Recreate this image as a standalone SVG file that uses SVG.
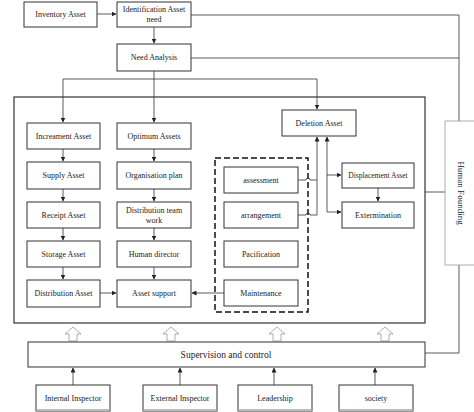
<svg xmlns="http://www.w3.org/2000/svg" width="474" height="412" viewBox="0 0 474 412">
<defs>
<marker id="ah" markerWidth="5" markerHeight="5" refX="4.5" refY="2.5" orient="auto" markerUnits="userSpaceOnUse">
<path d="M0,0 L5,2.5 L0,5 Z" fill="#222"/>
</marker>
</defs>
<style>
.b{fill:#fff;stroke:#333;stroke-width:1}
.t{font-family:"Liberation Serif","Times New Roman",serif;font-size:8px;fill:#222;text-anchor:middle}
.c{fill:none;stroke:#333;stroke-width:0.8}
.a{fill:none;stroke:#333;stroke-width:0.8;marker-end:url(#ah)}
.h{fill:#fff;stroke:#999;stroke-width:0.8}
</style>
<rect width="474" height="412" fill="#fff"/>
<g id="main-frame"><rect x="14" y="97" width="411" height="226" fill="none" stroke="#333" stroke-width="1.2"/></g>
<g id="dashed-group"><rect x="215" y="158" width="93" height="154" fill="none" stroke="#111" stroke-width="1.5" stroke-dasharray="6,3"/></g>
<g id="connectors">
<path class="a" d="M97,14 H116"/>
<path class="c" d="M191,15 H459 V121"/>
<path class="c" d="M191,58 H459"/>
<path class="a" d="M154,27 V43"/>
<path class="c" d="M154,71 V79"/>
<path class="c" d="M63,79 H317"/>
<path class="a" d="M63,79 V122"/>
<path class="a" d="M154,79 V122"/>
<path class="a" d="M317,79 V109"/>
<path class="a" d="M63,149 V161"/>
<path class="a" d="M63,189 V201"/>
<path class="a" d="M63,228 V240"/>
<path class="a" d="M63,267 V279"/>
<path class="a" d="M154,149 V161"/>
<path class="a" d="M154,189 V201"/>
<path class="a" d="M154,228 V240"/>
<path class="a" d="M154,267 V279"/>
<path class="a" d="M100,293 H116"/>
<path class="a" d="M224,293 H192"/>
<path class="c" d="M298,180 H306 a2,2 0 0 1 4,0 H317"/>
<path class="c" d="M298,215 H306 a2,2 0 0 1 4,0 H317"/>
<path class="a" d="M317,215 V137"/>
<path class="a" d="M327,212 V137"/>
<path class="a" d="M327,175 H341"/>
<path class="a" d="M327,212 H341"/>
<path class="a" d="M378,188 V201"/>
<path class="c" d="M425,192 H445"/>
<path class="c" d="M459,265 V353 H425"/>
<path class="a" d="M73,385 V368"/>
<path class="a" d="M180,385 V368"/>
<path class="a" d="M274,385 V368"/>
<path class="a" d="M375,385 V368"/>
<g fill="#fff" stroke="#999" stroke-width="0.8">
<path d="M69,341 V334 H65 L73,327 L81,334 H77 V341 Z"/>
<path d="M167,341 V334 H163 L171,327 L179,334 H175 V341 Z"/>
<path d="M273,341 V334 H269 L277,327 L285,334 H281 V341 Z"/>
<path d="M381,341 V334 H377 L385,327 L393,334 H389 V341 Z"/>
</g>
</g>
<g id="inventory-asset"><rect class="b" x="24" y="2" width="73" height="25"/><text class="t" x="60.5" y="17">Inventory Asset</text></g>
<g id="identification-asset-need"><rect class="b" x="117" y="2" width="74" height="25"/><text class="t" x="154" y="12">Identification Asset</text><text class="t" x="154" y="22">need</text></g>
<g id="need-analysis"><rect class="b" x="117" y="44" width="74" height="27"/><text class="t" x="154" y="60">Need Analysis</text></g>
<g id="increament-asset"><rect class="b" x="27" y="123" width="73" height="26"/><text class="t" x="63.5" y="139">Increament Asset</text></g>
<g id="supply-asset"><rect class="b" x="27" y="162" width="73" height="27"/><text class="t" x="63.5" y="178">Supply Asset</text></g>
<g id="receipt-asset"><rect class="b" x="27" y="202" width="73" height="26"/><text class="t" x="63.5" y="218">Receipt Asset</text></g>
<g id="storage-asset"><rect class="b" x="27" y="241" width="73" height="26"/><text class="t" x="63.5" y="257">Storage  Asset</text></g>
<g id="distribution-asset"><rect class="b" x="27" y="280" width="73" height="27"/><text class="t" x="63.5" y="296">Distribution Asset</text></g>
<g id="optimum-assets"><rect class="b" x="117" y="123" width="74" height="26"/><text class="t" x="154" y="139">Optimum Assets</text></g>
<g id="organisation-plan"><rect class="b" x="117" y="162" width="74" height="27"/><text class="t" x="154" y="178">Organisation plan</text></g>
<g id="distribution-team-work"><rect class="b" x="117" y="202" width="74" height="26"/><text class="t" x="154" y="213">Distribution team</text><text class="t" x="154" y="223">work</text></g>
<g id="human-director"><rect class="b" x="117" y="241" width="74" height="26"/><text class="t" x="154" y="257">Human director</text></g>
<g id="asset-support"><rect class="b" x="117" y="280" width="74" height="27"/><text class="t" x="154" y="296">Asset support</text></g>
<g id="assessment"><rect class="b" x="224" y="167" width="74" height="26"/><text class="t" x="261" y="183">assessment</text></g>
<g id="arrangement"><rect class="b" x="224" y="202" width="74" height="26"/><text class="t" x="261" y="218">arrangement</text></g>
<g id="pacification"><rect class="b" x="224" y="241" width="74" height="26"/><text class="t" x="261" y="257">Pacification</text></g>
<g id="maintenance"><rect class="b" x="224" y="280" width="74" height="26"/><text class="t" x="261" y="296">Maintenance</text></g>
<g id="deletion-asset"><rect class="b" x="282" y="110" width="74" height="26"/><text class="t" x="319" y="126">Deletion  Asset</text></g>
<g id="displacement-asset"><rect class="b" x="342" y="163" width="72" height="25"/><text class="t" x="378" y="178" style="font-size:7.5px">Displacement  Asset</text></g>
<g id="extermination"><rect class="b" x="342" y="202" width="72" height="26"/><text class="t" x="378" y="218">Extermination</text></g>
<g id="human-founding"><rect class="h" x="445" y="121" width="40" height="144"/><text class="t" transform="translate(458,193) rotate(90)" style="font-size:9px">Human Founding</text></g>
<g id="supervision-and-control"><rect class="b" x="28" y="342" width="397" height="25"/><text class="t" x="226" y="358" style="font-size:9.5px">Supervision and control</text></g>
<g id="internal-inspector"><rect class="b" x="36" y="385" width="74" height="26"/><rect x="36.5" y="409" width="73" height="2" fill="#bbb"/><text class="t" x="73" y="401">Internal Inspector</text></g>
<g id="external-inspector"><rect class="b" x="143" y="385" width="74" height="26"/><rect x="143.5" y="409" width="73" height="2" fill="#bbb"/><text class="t" x="180" y="401">External Inspector</text></g>
<g id="leadership"><rect class="b" x="238" y="385" width="74" height="26"/><rect x="238.5" y="409" width="73" height="2" fill="#bbb"/><text class="t" x="275" y="401">Leadership</text></g>
<g id="society"><rect class="b" x="339" y="385" width="74" height="26"/><rect x="339.5" y="409" width="73" height="2" fill="#bbb"/><text class="t" x="376" y="401">society</text></g>
</svg>
